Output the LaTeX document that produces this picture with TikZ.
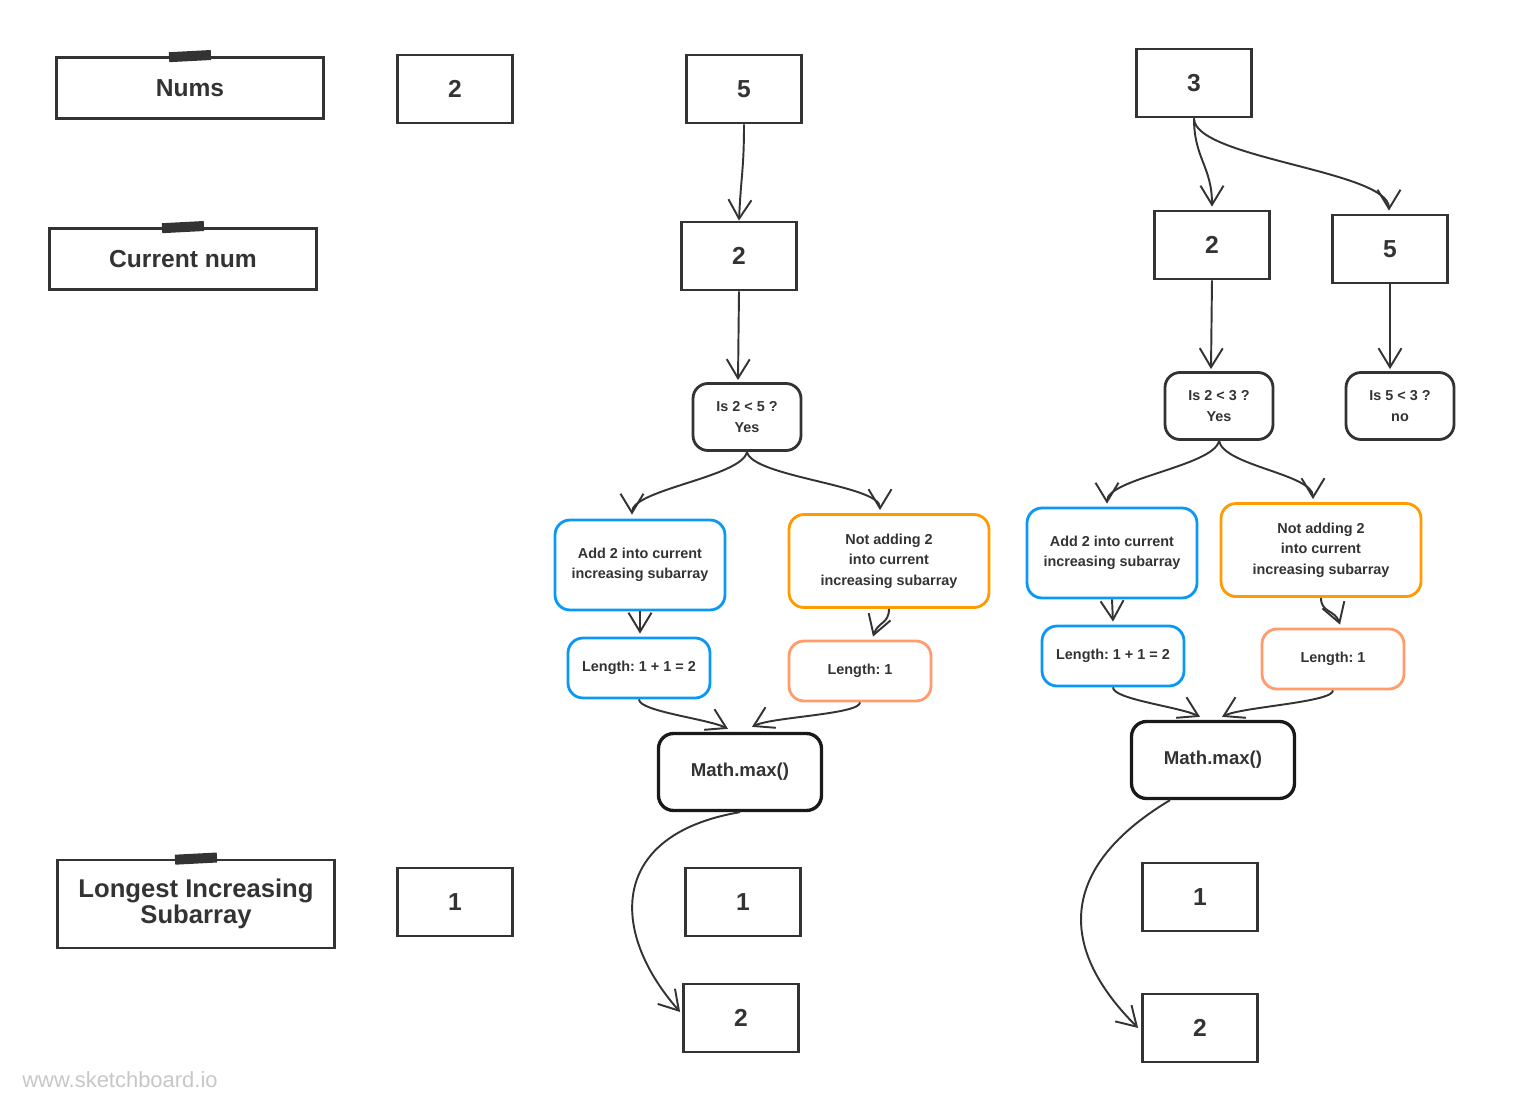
\documentclass[tikz,border=0pt]{standalone}
\usepackage{fontspec}
\setmainfont{Liberation Sans}
\usetikzlibrary{arrows.meta,calc}
\frenchspacing

\definecolor{ink}{HTML}{333333}
\definecolor{addblue}{HTML}{0A98F5}
\definecolor{notorange}{HTML}{FF9A00}
\definecolor{lensalmon}{HTML}{FF9C6B}

\newcommand*{\bigfont}{\fontsize{14}{15}\selectfont\bfseries}
\newcommand*{\smallfont}{\fontsize{8.2}{11.6}\selectfont\bfseries}

\begin{document}
\begin{tikzpicture}
[
	x=0.02cm,y=-0.02cm,
	numbox/.style={draw=ink,line width=1.6pt,text=ink,font=\bigfont,minimum width=2.3cm,minimum height=1.36cm,inner sep=0pt},
	namebox/.style={numbox,minimum width=5.34cm,minimum height=1.22cm},
	tape/.style={fill=ink,minimum width=0.84cm,minimum height=0.2cm,inner sep=0pt,rotate=3},
	ask/.style={draw=ink,line width=1.6pt,rounded corners=0.3cm,text=ink,font=\smallfont,align=center,minimum width=2.16cm,minimum height=1.34cm},
	addcase/.style={ask,draw=addblue,minimum width=3.4cm,minimum height=1.8cm},
	notcase/.style={ask,draw=notorange,minimum width=4cm,minimum height=1.86cm},
	addlen/.style={ask,draw=addblue,minimum width=2.84cm,minimum height=1.2cm},
	notlen/.style={ask,draw=lensalmon,minimum width=2.84cm,minimum height=1.2cm},
	maxbox/.style={ask,draw=black!90,line width=1.9pt,font=\fontsize{10.6}{12}\selectfont\bfseries,minimum width=3.26cm,minimum height=1.54cm},
	conn/.style={draw=ink,line width=1.1pt,-{Straight Barb[length=0.38cm,width=0.46cm]}}
]

	\useasboundingbox (0,0) rectangle (1516,1112);

	% row labels
	\node[namebox] at (190,88) (nums) {Nums};
	\node[tape] at (nums.north) (numstape) {};
	\node[namebox] at (183,259) (curnum) {Current num};
	\node[tape] at (curnum.north) (curtape) {};
	\node[namebox,minimum width=5.54cm,minimum height=1.76cm,align=center,font=\fontsize{14.6}{14.7}\selectfont\bfseries] at (196,904) (longest) {Longest Increasing\\Subarray};
	\node[tape] at (longest.north) (longtape) {};

	% first number
	\node[numbox] at (455,89) (numa) {2};
	\node[numbox] at (455,902) (lisa) {1};

	% second number
	\node[numbox] at (744,89) (numb) {5};
	\node[numbox] at (739,256) (curb) {2};
	\node[ask] at (747,417) (askb) {Is 2 < 5 ?\\Yes};
	\node[addcase] at (640,565) (addb) {Add 2 into current\\increasing subarray};
	\node[notcase] at (889,561) (notb) {Not adding 2\\into current\\increasing subarray};
	\node[addlen] at (639,668) (addlenb) {Length: 1 + 1 = 2};
	\node[notlen] at (860,671) (notlenb) {Length: 1};
	\node[maxbox] at (740,772) (maxb) {Math.max()};
	\node[numbox] at (743,902) (lisb) {1};
	\node[numbox] at (741,1018) (lisbnew) {2};

	\draw[conn] (numb.south) .. controls +(0,45) and +(2,-45) .. (curb.north);
	\draw[conn] (curb.south) -- ($(askb.north)+(-9,-2)$);
	\draw[conn] (askb.south) .. controls +(-5,25) and +(0,-25) .. ($(addb.north)+(-8,-4)$);
	\draw[conn] (askb.south) .. controls +(5,25) and +(0,-25) .. ($(notb.north)+(-9,-3)$);
	\draw[conn] (addb.south) -- ($(addlenb.north)+(1,-3)$);
	\draw[conn] (notb.south) .. controls +(0,15) and +(5,-15) .. ($(notlenb.north)+(13,-3)$);
	\draw[conn] (addlenb.south) .. controls +(0,12) and +(-20,-10) .. ($(maxb.north)+(-12,-3)$);
	\draw[conn] (notlenb.south) .. controls +(0,12) and +(20,-10) .. ($(maxb.north)+(12,-5)$);
	\draw[conn] (maxb.south) .. controls +(-130,22) and +(-72,-82) .. ($(lisbnew.west)+(-2,-6)$);

	% third number
	\node[numbox] at (1194,83) (numc) {3};
	\node[numbox] at (1212,245) (curc) {2};
	\node[numbox] at (1390,249) (curcc) {5};
	\node[ask] at (1219,406) (askc) {Is 2 < 3 ?\\Yes};
	\node[ask] at (1400,406) (askcc) {Is 5 < 3 ?\\no};
	\node[addcase] at (1112,553) (addc) {Add 2 into current\\increasing subarray};
	\node[notcase] at (1321,550) (notc) {Not adding 2\\into current\\increasing subarray};
	\node[addlen] at (1113,656) (addlenc) {Length: 1 + 1 = 2};
	\node[notlen] at (1333,659) (notlenc) {Length: 1};
	\node[maxbox] at (1213,760) (maxc) {Math.max()};
	\node[numbox] at (1200,897) (lisc) {1};
	\node[numbox] at (1200,1028) (liscnew) {2};

	\draw[conn] (numc.south) .. controls +(0,40) and +(0,-40) .. ($(curc.north)+(0,-3)$);
	\draw[conn] (numc.south) .. controls +(0,40) and +(0,-40) .. ($(curcc.north)+(-1,-3)$);
	\draw[conn] (curc.south) -- ($(askc.north)+(-8,-2)$);
	\draw[conn] (curcc.south) -- ($(askcc.north)+(-10,-2)$);
	\draw[conn] (askc.south) .. controls +(-5,25) and +(0,-25) .. ($(addc.north)+(-5,-3)$);
	\draw[conn] (askc.south) .. controls +(5,25) and +(0,-25) .. ($(notc.north)+(-8,-3)$);
	\draw[conn] (addc.south) -- ($(addlenc.north)+(0,-3)$);
	\draw[conn] (notc.south) .. controls +(0,15) and +(-5,-15) .. ($(notlenc.north)+(7,-3)$);
	\draw[conn] (addlenc.south) .. controls +(0,12) and +(-20,-10) .. ($(maxc.north)+(-13,-3)$);
	\draw[conn] (notlenc.south) .. controls +(0,12) and +(20,-10) .. ($(maxc.north)+(9,-3)$);
	\draw[conn] ($(maxc.south)+(-43,0)$) .. controls +(-100,60) and +(-90,-90) .. ($(liscnew.west)+(-3,0)$);

	% watermark
	\node[text=black!22,font=\fontsize{12.5}{14}\selectfont,anchor=west,inner sep=0pt] at (22,1080) (mark) {www.sketchboard.io};

\end{tikzpicture}
\end{document}
